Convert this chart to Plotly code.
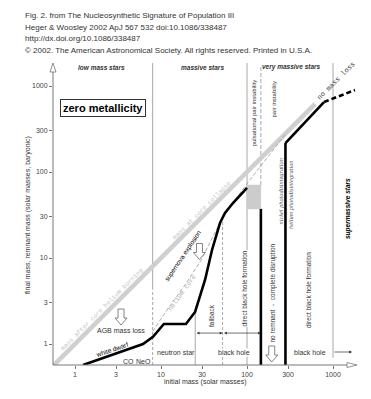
import math
import plotly.graph_objects as go

# page body has an 8px margin; figure is sized/shifted to compensate
OFF = 8
W, H = 371 - OFF, 399 - OFF
ML, MR, MT, MB = 53 - OFF, 11, 60 - OFF, 34
PW = W - ML - MR
PH = H - MT - MB
XR = [-0.2558, 3.3140]
YR = [-0.2442, 3.3023]
lg = math.log10

# ---------------- data ----------------
tick_vals = [1, 3, 10, 30, 100, 300, 1000]
tick_text = ["1", "3", "10", "30", "100", "300", "1000"]

# remnant mass, low/intermediate masses (initial, final)
remnant_initial = [1.24, 6.18, 8.07, 10.8, 19.5, 24.9, 32.5, 39.2, 48.5, 55.5, 68.7, 100]
remnant_final = [0.57, 1.0, 1.21, 1.71, 1.71, 2.36, 5.55, 12.4, 25.5, 33.4, 43.6, 65.2]

# very massive branch (direct black hole)
vms_initial = [280, 786]
vms_final = [217, 651]
# extrapolated (dashed)
vms_ext_initial = [786, 1800]
vms_ext_final = [651, 898]

# helium core mass
he_initial = [8.0, 11.1, 19.0, 28.4, 55.5, 108, 275]
he_final = [1.4, 2.29, 4.85, 8.98, 33.4, 80.7, 269]

# no mass loss (final = initial)
nml_initial = [0.56, 620]
nml_final = [0.56, 620]

# pulsational pair instability box
ppi_initial = [100, 145]
ppi_final = [37.2, 70.6]

# region boundaries (initial mass)
m_agb = 8
m_ns = 25
m_fb = 52
m_dbh = 100
m_pi = 145
m_pi_top = 280
m_sms = 1000

M_BOT = 0.57
M_TOP = 1850

fig = go.Figure()

GREY = "#a8a8a8"
LGREY = "#cfcfcf"
TXT = "#333333"


def line(xs, ys, color, width, dash="solid"):
    fig.add_trace(go.Scatter(x=xs, y=ys, mode="lines",
                             line=dict(color=color, width=width, dash=dash),
                             hoverinfo="skip", showlegend=False))


# boundaries
line([m_agb, m_agb], [4.3, M_TOP], GREY, 1)
line([m_agb, m_agb], [M_BOT, 4.3], GREY, 1, "3px,2px")
line([m_ns, m_ns], [M_BOT, 2.36], GREY, 1)
line([m_fb, m_fb], [M_BOT, 29.5], GREY, 1, "3px,2px")
line([m_dbh, m_dbh], [M_BOT, M_TOP], GREY, 1)
line([m_pi, m_pi], [70.6, 1660], GREY, 1, "4px,2px")
line([m_sms, m_sms], [0.69, M_TOP], GREY, 1)

# pulsational pair-instability box
fig.add_trace(go.Scatter(x=[ppi_initial[0], ppi_initial[1], ppi_initial[1], ppi_initial[0], ppi_initial[0]],
                         y=[ppi_final[0], ppi_final[0], ppi_final[1], ppi_final[1], ppi_final[0]],
                         mode="lines", fill="toself", fillcolor="#cccccc",
                         line=dict(color="#cccccc", width=0.5), hoverinfo="skip", showlegend=False))

# no mass loss line
line(nml_initial, nml_final, LGREY, 4.5)
# helium core
line(he_initial, he_final, "#9a9a9a", 0.8, "4px,2px")

# remnant lines
line(remnant_initial, remnant_final, "black", 2.6)
line([m_pi, m_pi], [M_BOT, ppi_final[0]], "black", 2.6)
line([m_pi_top, m_pi_top], [M_BOT, vms_final[0]], "black", 2.6)
line(vms_initial, vms_final, "black", 2.6)
line(vms_ext_initial, vms_ext_final, "black", 2.6, "5px,3px")

ann = []


def txt(m, M, s, size=7, color=TXT, angle=0, family="Liberation Sans", bg=None, **kw):
    d = dict(x=lg(m), y=lg(M), xref="x", yref="y", text=s, showarrow=False,
             textangle=angle, font=dict(family=family, size=size, color=color),
             xanchor="center", yanchor="middle")
    if bg:
        d["bgcolor"] = bg
        d["borderpad"] = 0
    d.update(kw)
    ann.append(d)


# region headers
txt(2.06, 1663, "<b><i>low mass stars</i></b>", 6.5)
txt(30.7, 1663, "<b><i>massive stars</i></b>", 6.5)
txt(329, 1663, "<b><i>very massive stars</i></b>", 6.5)

# zero metallicity box
txt(2.14, 555, "<b>zero metallicity</b>", 11, "black", bordercolor="#333", borderwidth=1,
    borderpad=2, bg="white")

# vertical labels
txt(122, 486, "pulsational pair instability", 6, angle=-90)
txt(206, 697, "pair instability", 6, angle=-90)
txt(248, 59.3, "<i>nickel photodisintegration</i>", 6.3, "#555", -90, "Liberation Serif")
txt(325, 54.1, "<i>helium photodisintegration</i>", 6.3, "#555", -90, "Liberation Serif")
txt(1493, 38.1, "<b><i>supermassive stars</i></b>", 6.5, "black", -90)
txt(96, 4.48, "direct black hole formation", 6.5, angle=-90, bg="white")
txt(512, 4.24, "direct black hole formation", 6.5, angle=-90)
txt(198, 3.92, "no remnant  -  complete disruption", 6.5, angle=-90)
txt(39.2, 2.12, "fallback", 6.5, angle=-90)

# bottom labels
txt(14.9, 0.807, "neutron star", 7)
txt(69.7, 0.807, "black hole", 7, bg="white")
txt(533, 0.807, "black hole", 7, bg="white")
txt(4.19, 0.634, "CO", 7)
txt(6.26, 0.634, "NeO", 7)

# curve labels
txt(3.43, 1.42, "AGB mass loss", 7)
txt(2.69, 0.852, "white dwarf", 6.5, "black", -19)
txt(18.0, 10.6, "supernova explosion", 6.5, "black", -56)
txt(18.0, 3.92, "helium core", 6.5, "#b0b0b0", -54, "Liberation Mono")
txt(2.06, 2.55, "mass after core helium burning", 6.3, "#c4c4c4", -45, "Liberation Mono")
txt(30.0, 36.1, "mass at core collapse", 6.3, "#c4c4c4", -45, "Liberation Mono")
txt(1083, 1143, "no mass loss", 7, "#444", -45, "Liberation Mono")

# fallback arrows
for a, b in [(m_ns, m_fb), (m_fb, m_pi)]:
    ann.append(dict(x=lg(b), y=lg(1.34), ax=lg(a), ay=lg(1.34), xref="x", yref="y",
                    axref="x", ayref="y", text="", showarrow=True, arrowhead=2,
                    arrowside="end+start", arrowsize=0.8, arrowwidth=0.7, arrowcolor="#333"))
# supermassive black hole arrow
ann.append(dict(x=lg(1660), y=lg(0.807), ax=lg(m_sms), ay=lg(0.807), xref="x", yref="y",
                axref="x", ayref="y", text="", showarrow=True, arrowhead=2,
                arrowsize=0.8, arrowwidth=0.7, arrowcolor="#333"))


def pxx(p):
    return (p - OFF - ML) / PW


def pxy(y):
    return (H - MB - (y - OFF)) / PH


def dx(m):
    return (lg(m) - XR[0]) / (XR[1] - XR[0])


def dy(M):
    return (lg(M) - YR[0]) / (YR[1] - YR[0])


# title lines
title_lines = [
    "Fig. 2. from The Nucleosynthetic Signature of Population III",
    "Heger &amp; Woosley 2002 ApJ 567 532 doi:10.1086/338487",
    "http://dx.doi.org/10.1086/338487",
    "© 2002. The American Astronomical Society. All rights reserved. Printed in U.S.A.",
]
for i, s in enumerate(title_lines):
    ann.append(dict(x=pxx(23), y=pxy(15 + 12 * i), xref="paper", yref="paper", text=s,
                    showarrow=False, xanchor="left", yanchor="middle",
                    font=dict(family="Liberation Sans", size=8, color="#333")))

# axis titles
ann.append(dict(x=pxx(28), y=pxy(215), xref="paper", yref="paper",
                text="final mass, remnant mass (solar masses, baryonic)", textangle=-90,
                showarrow=False, xanchor="center", yanchor="middle",
                font=dict(family="Liberation Sans", size=7, color=TXT)))
ann.append(dict(x=pxx(205), y=pxy(382), xref="paper", yref="paper",
                text="initial mass (solar masses)", showarrow=False,
                xanchor="center", yanchor="middle",
                font=dict(family="Liberation Sans", size=7, color=TXT)))

shapes = []
AX = "#777"
# axis lines
shapes.append(dict(type="line", xref="paper", yref="paper", x0=0, x1=pxx(347), y0=0, y1=0,
                   line=dict(color=AX, width=1)))
shapes.append(dict(type="line", xref="paper", yref="paper", x0=0, x1=0, y0=0, y1=pxy(72),
                   line=dict(color=AX, width=1)))
# axis arrowheads
shapes.append(dict(type="path", xref="paper", yref="paper", xsizemode="pixel", ysizemode="pixel",
                   xanchor=pxx(347), yanchor=0, path="M 0,-2.5 L 10,0 L 0,2.5 Z",
                   line=dict(color=AX, width=0.8), fillcolor="white"))
shapes.append(dict(type="path", xref="paper", yref="paper", xsizemode="pixel", ysizemode="pixel",
                   xanchor=0, yanchor=pxy(72), path="M -3,0 L 0,9 L 3,0 Z",
                   line=dict(color=AX, width=0.8), fillcolor="white"))

# open block arrows (down)
ARROW = "M -3,8 L 3,8 L 3,-1 L 6,-1 L 0,-8 L -6,-1 L -3,-1 Z"
for m, M in [(3.43, 2.06), (28.0, 11.9), (194, 0.765)]:
    shapes.append(dict(type="path", xref="paper", yref="paper", xsizemode="pixel",
                       ysizemode="pixel", xanchor=dx(m), yanchor=dy(M), path=ARROW,
                       line=dict(color="#666", width=0.8), fillcolor="white"))

fig.update_layout(
    width=W, height=H, autosize=False,
    margin=dict(l=ML, r=MR, t=MT, b=MB, pad=0),
    paper_bgcolor="white", plot_bgcolor="white",
    showlegend=False,
    annotations=ann, shapes=shapes,
    xaxis=dict(type="log", range=XR, showgrid=False, zeroline=False, showline=False,
               tickvals=tick_vals, ticktext=tick_text, ticks="outside", ticklen=3,
               tickcolor=AX, tickfont=dict(family="Liberation Sans", size=7, color="#444")),
    yaxis=dict(type="log", range=YR, showgrid=False, zeroline=False, showline=False,
               tickvals=tick_vals, ticktext=tick_text, ticks="outside", ticklen=3,
               tickcolor=AX, tickfont=dict(family="Liberation Sans", size=7, color="#444")),
)

fig.write_html("out.html")
